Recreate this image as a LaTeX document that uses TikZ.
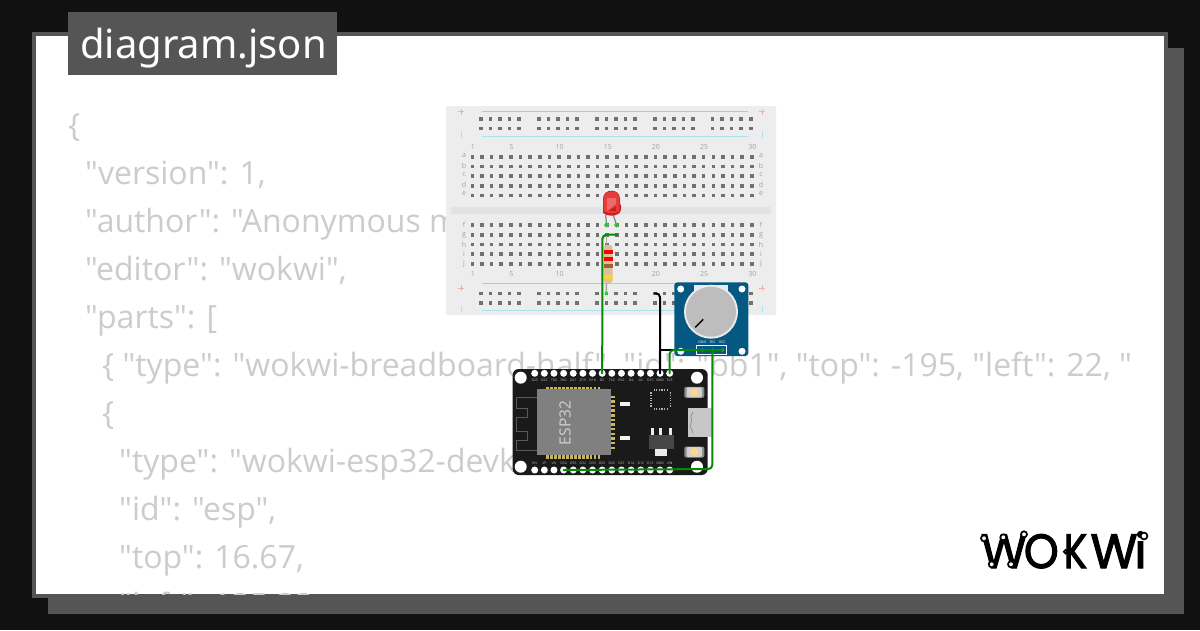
\documentclass[tikz,border=0pt]{standalone}
\usepackage{fontspec}
\setmainfont{Open Sans}
\newfontfamily\codefont{Open Sans}
\newfontfamily\logofont[FakeBold=2.6]{Poppins}
\newfontfamily\titlefont{Noto Sans}
\definecolor{pagebg}{HTML}{111111}
\definecolor{framegray}{HTML}{555555}
\definecolor{codegray}{HTML}{CCCCCC}
\definecolor{bbbody}{HTML}{EDEDED}
\definecolor{bbstrip}{HTML}{E2E2E2}
\definecolor{bbhole}{HTML}{707070}
\definecolor{bbtext}{HTML}{A0A0A0}
\definecolor{railred}{HTML}{F2B0A8}
\definecolor{railblue}{HTML}{A8E2F4}
\definecolor{wiregreen}{HTML}{058A05}
\definecolor{pingreen}{HTML}{22DD22}
\definecolor{potblue}{HTML}{045881}
\definecolor{espblack}{HTML}{1A1A1A}
\definecolor{modgray}{HTML}{808080}
\definecolor{gold}{HTML}{C8B560}
\definecolor{restan}{HTML}{DBC09C}
\definecolor{ledouter}{HTML}{C81E1E}
\definecolor{ledinner}{HTML}{E63C3C}
\definecolor{ledlight}{HTML}{F06A6A}
\tikzset{
  x=1pt,y=-1pt,
  codeline/.style={anchor=base west,inner sep=0pt,text=codegray,font=\codefont\fontsize{32}{38}\selectfont},
  bbnum/.style={inner sep=0pt,text=bbtext,font=\fontsize{7}{8}\selectfont},
  esplabel/.style={inner sep=0pt,text=black!25,font=\fontsize{3.4}{4}\selectfont},
  potlabel/.style={inner sep=0pt,text=white,font=\fontsize{3.6}{4}\selectfont},
  wirebase/.style={line width=2pt,rounded corners=4pt,line cap=round},
  greenwire/.style={wirebase,draw=wiregreen},
  blackwire/.style={wirebase,draw=black},
  pinmark/.style={draw=pingreen,line width=1.1pt,fill=none},
  logoring/.style={draw=black,line width=1.7pt,fill=white},
  logoletter/.style={anchor=base,inner sep=0pt,text=black,font=\logofont\fontsize{48}{50}\selectfont},
}
\newcommand{\hole}[2]{\fill[bbhole] (#1-1.8,#2-1.8) rectangle (#1+1.8,#2+1.8);}
\begin{document}
\begin{tikzpicture}
\useasboundingbox (0,0) rectangle (1200,630);
\fill[pagebg] (0,0) rectangle (1200,630);
\fill[framegray] (48,48) rectangle (1184,614);
\fill[framegray] (32,32) rectangle (1168,598);
\fill[white] (36,36) rectangle (1164,594);
\begin{scope}
\clip (36,36) rectangle (1164,594);
\node[codeline] (c1) at (68,136) {\{};
\node[codeline] (c2) at (85,184) {"version": 1,};
\node[codeline] (c3) at (85,232) {"author": "Anonymous m};
\node[codeline] (c4) at (85,280) {"editor": "wokwi",};
\node[codeline] (c5) at (85,328) {"parts": [};
\node[codeline] (c6) at (102,376) {\{ "type": "wokwi-breadboard-half", "id": "bb1", "top": -195, "left": 22, "};
\node[codeline] (c7) at (102,424) {\{};
\node[codeline] (c8) at (119,472) {"type": "wokwi-esp32-devk};
\node[codeline] (c9) at (119,520) {"id": "esp",};
\node[codeline] (c10) at (119,568) {"top": 16.67,};
\node[codeline] (c11) at (119,616) {"left": 135.33,};
\end{scope}
\fill[framegray] (68,12) rectangle (337,75);
\node[anchor=base west,inner sep=0pt,text=white,font=\titlefont\fontsize{40}{44}\selectfont] (title) at (80,58) {diagram.json};

% ---------- breadboard
\fill[bbbody,rounded corners=2pt] (446,106) rectangle (776,315);
\fill[bbstrip] (451,207) rectangle (771,214);
\draw[railred,line width=.8pt] (482,111.5) -- (748,111.5) (482,283.5) -- (748,283.5);
\draw[railblue,line width=.8pt] (482,136.5) -- (748,136.5) (482,310.5) -- (748,310.5);
\foreach \px in {461,762} {
  \draw[railred,line width=.8pt] (\px-3,111.5) -- (\px+3,111.5) (\px,108.5) -- (\px,114.5);
  \draw[railred,line width=.8pt] (\px-3,288) -- (\px+3,288) (\px,285) -- (\px,291);
  \draw[railblue,line width=.8pt] (\px,131) -- (\px,137.5) (\px,306) -- (\px,312.5);
}
\foreach \ry in {156.7,166.3,176,185.7,195.3,225,234.7,244.3,254,263.7} {
  \foreach \c in {0,...,29} {
    \pgfmathsetmacro{\hx}{472.3+\c*9.64}
    \hole{\hx}{\ry}
  }
}
\foreach \ry in {119,128.3,293.3,303} {
  \foreach \gx in {480.7,538.7,596.7,654.7,712.3} {
    \foreach \c in {0,...,4} {
      \pgfmathsetmacro{\hx}{\gx+\c*9.64}
      \hole{\hx}{\ry}
    }
  }
}
\foreach \n in {1,5,10,15,20,25,30} {
  \pgfmathsetmacro{\hx}{472.8+(\n-1)*9.64}
  \node[bbnum] (numt\n) at (\hx,146.7) {\n};
  \node[bbnum] (numb\n) at (\hx,273.7) {\n};
}
\foreach \l/\ly in {a/155.5,b/165.5,c/174.5,d/184.5,e/193.5,f/224.5,g/235,h/244.5,i/254,j/263.5} {
  \node[bbnum] (ll\l) at (464,\ly) {\l};
  \node[bbnum] (lr\l) at (761,\ly) {\l};
}

% named connection points on the breadboard
\coordinate (ledA) at (606.5,225);
\coordinate (ledC) at (616.5,225);
\coordinate (g16) at (616.9,234.7);
\coordinate (g15) at (606.5,234.7);
\coordinate (rail2) at (606.3,293.3);
\coordinate (rail4) at (654.7,293.3);

% ---------- LED legs and pin marks
\draw[gray,line width=1.2pt] (605.7,215) -- (ledA);
\draw[gray,line width=1.2pt] (613.3,215) -- (ledC);
\draw[pinmark] (ledA) circle (1.8);
\draw[pinmark] (ledC) circle (1.8);
% LED
\fill[ledouter] (603,213) -- (603,199) .. controls (603,193.5) and (607,190.7) .. (611.5,190.7)
  .. controls (616,190.7) and (620,193.5) .. (620,199) -- (620,203.5) .. controls (622,206) and (621.5,211) .. (619,213.5)
  .. controls (615,216.5) and (607,216.5) .. (603,213) -- cycle;
\fill[ledinner] (603.6,211) -- (603.6,199) .. controls (603.6,194.5) and (607.5,191.3) .. (611.5,191.3)
  .. controls (615.5,191.3) and (619.4,194.5) .. (619.4,199) -- (619.4,211) .. controls (615,214) and (608,214) .. (603.6,211) -- cycle;
\fill[ledlight] (607,198) -- (616,198) -- (616,204) -- (607,211) -- cycle;
\fill[ledouter] (616,200) -- (616,206) -- (609,211) -- (616,211) -- cycle;

% ---------- Resistor
\draw[gray!70,line width=1.5pt] (g15) -- (606.5,246);
\draw[gray!70,line width=1.5pt] (606.5,282) -- (rail2);
\fill[restan,rounded corners=3pt] (603.5,245) rectangle (612.7,283);
\fill[red] (603.5,249.7) rectangle (612.7,253.7);
\fill[red] (603.5,257.3) rectangle (612.7,261.3);
\fill[brown!80!black] (603.5,264) rectangle (612.7,268);
\fill[yellow!60!orange!80!white] (603.5,275) rectangle (612.7,279);
\draw[pinmark] (g15) circle (1);
\draw[pinmark] (rail2) circle (1.2);

% ---------- ESP32 board
\fill[espblack,rounded corners=6pt] (512.7,369) rectangle (707.7,475);
% USB
\fill[black!22] (688.3,408.3) rectangle (711.7,436.7);
\draw[black!45,line width=.7pt] (693,412) -- (691,416) -- (691.5,421) -- (690,426) -- (693,433);
\foreach \hx/\hy in {520.7/377.7,697/377.7,520.7/466.7,697/466.7} \fill[white] (\hx,\hy) circle (6);
\foreach \c [count=\i from 0] in {D23,D22,TX0,RX0,D21,D19,D18,D5,TX2,RX2,D4,D2,D15,GND,3V3} {
  \pgfmathsetmacro{\hx}{534.7+\i*9.64}
  \coordinate (et\i) at (\hx,373.3);
  \fill[white] (et\i) circle (3.5);
  \node[esplabel] (elt\i) at (\hx,380.7) {\c};
}
\foreach \c [count=\i from 0] in {EN,VP,VN,D34,D35,D32,D33,D25,D26,D27,D14,D12,D13,GND,VIN} {
  \pgfmathsetmacro{\hx}{534.7+\i*9.64}
  \coordinate (eb\i) at (\hx,470);
  \fill[white] (eb\i) circle (3.5);
  \node[esplabel] (elb\i) at (\hx,463.7) {\c};
}
% antenna
\draw[black!65,line width=.8pt] (537.3,397) -- (516,397) -- (516,408) -- (527,408) -- (527,417) -- (516,417) -- (516,431) -- (527,431) -- (527,440) -- (516,440) -- (516,450) -- (537.3,450);
% gold pins
\foreach \c in {0,...,13} {
  \pgfmathsetmacro{\hx}{547.5+\c*3.98}
  \fill[gold] (\hx-1.2,386.5) rectangle (\hx+1.2,390);
  \fill[gold] (\hx-1.2,455) rectangle (\hx+1.2,458.5);
}
\foreach \c in {0,...,11} {
  \pgfmathsetmacro{\hy}{396.7+\c*4.65}
  \fill[gold] (610.5,\hy-1.2) rectangle (614.5,\hy+1.2);
}
\fill[modgray] (537.3,389.3) rectangle (610.7,455);
\node[inner sep=0pt,rotate=90,text=black!18,font=\fontsize{15.5}{18}\selectfont] (esplabelmain) at (565,423) {ESP32};
% small smd
\fill[black!5] (620.3,401.7) rectangle (629.7,405.7);
\fill[black!5] (620.3,436) rectangle (629.7,440);
% chip
\fill[black!90] (652,391) rectangle (669.5,408);
\foreach \c in {0,...,5} {
  \pgfmathsetmacro{\hx}{654.2+\c*2.6}
  \fill[gray!60] (\hx-.6,389.3) rectangle (\hx+.6,390.8);
  \fill[gray!60] (\hx-.6,408.2) rectangle (\hx+.6,409.7);
  \pgfmathsetmacro{\hy}{393+\c*2.6}
  \fill[gray!60] (650.2,\hy-.6) rectangle (651.7,\hy+.6);
  \fill[gray!60] (669.8,\hy-.6) rectangle (671.3,\hy+.6);
}
% regulator
\foreach \hx in {652.7,660.7,670} \fill[black!8] (\hx-1.5,428.3) rectangle (\hx+1.5,436);
\fill[black!72] (649.3,435) rectangle (674,449);
\fill[black!8] (655,449) rectangle (666.7,455.7);
% buttons
\foreach \hy in {392.3,452} {
  \fill[black!45,rounded corners=2pt] (684.3,\hy-5.5) rectangle (704.3,\hy+5.5);
  \fill[black!18,rounded corners=2pt] (686.5,\hy-5) rectangle (702.1,\hy+5);
  \fill[yellow!40!orange!45!white] (694.3,\hy) circle (4);
}

% ---------- Potentiometer
\fill[potblue,rounded corners=3pt] (674.3,282.3) rectangle (748.3,356);
\fill[gray!35!blue!10!white] (694,284.7) rectangle (727.7,295);
\foreach \hx/\hy in {680.7/289,742/289,680.7/351.3,742/351.3} \fill[white] (\hx,\hy) circle (3.5);
\fill[black!8] (711,311.7) circle (27);
\fill[black!26] (711,311.7) circle (25);
\coordinate (ptrA) at (695.3,327.3);
\coordinate (ptrB) at (703.3,319.3);
\draw[black,line width=1.3pt] (ptrA) -- (ptrB);
\draw[white,line width=.8pt] (696.3,345) rectangle (726.7,354);
\coordinate (potGND) at (702.3,350);
\coordinate (potSIG) at (712.3,350);
\coordinate (potVCC) at (722.3,350);
\foreach \p/\t in {potGND/GND,potSIG/SIG,potVCC/VCC} {
  \fill[gray!50] (\p) circle (1.6);
  \path (\p) ++(0,-8) node[potlabel] (lab\t) {\t};
}

% ---------- Wires
\draw[blackwire] (rail4) -- (660,293.3) -- (660,350) -- (et13);
\draw[blackwire] (660,350) -- (potGND);
\draw[greenwire] (g16) -- (602.5,234.7) -- (et7);
\draw[greenwire] (et14) -- (669.7,350) -- (potVCC);
\draw[greenwire] (potSIG) -- (712.3,469) -- (eb3);

% ---------- Logo
\node[logoletter] (logoW1) at (1004,568) {\scalebox{.98}[1]{W}};
\node[logoletter] (logoO) at (1041.3,568) {\scalebox{.92}[1]{O}};
\node[logoletter] (logoK) at (1075.5,568) {\scalebox{.8}[1]{K}};
\node[logoletter] (logoW2) at (1114,568) {\scalebox{1}[1]{W}};
\node[logoletter] (logoI) at (1140.5,568) {i};
\foreach \hx/\hy in {984/538.3,991.7/564.3,1003.3/537.3,1011/564.3,1024/534.3} \draw[logoring] (\hx,\hy) circle (3);
\draw[logoring] (1065.7,551.7) circle (1.8);
\draw[logoring] (1144,536) circle (3.4);
\end{tikzpicture}
\end{document}
